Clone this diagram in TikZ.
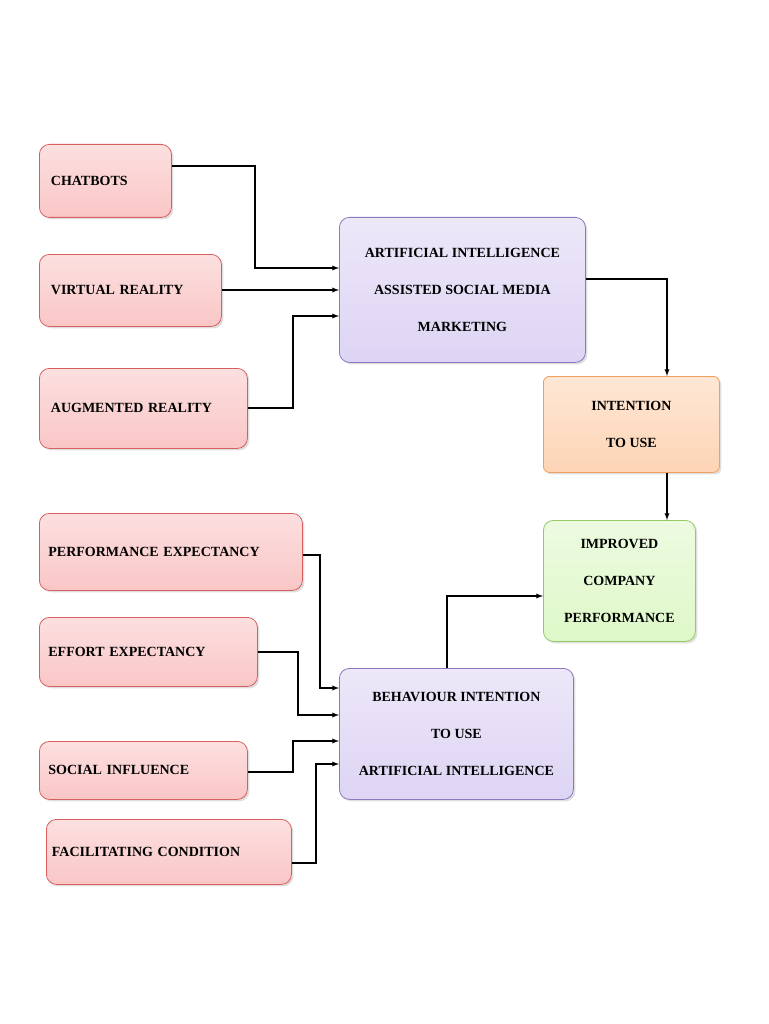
\documentclass[tikz,border=0pt]{standalone}
\usepackage{fontspec}
\setmainfont{Liberation Serif}
\usetikzlibrary{shadows}
\definecolor{pinkbd}{RGB}{215,95,95}
\definecolor{pinkfl}{RGB}{250,198,198}
\definecolor{purpbd}{RGB}{140,120,190}
\definecolor{purpfl}{RGB}{222,212,244}
\definecolor{orngbd}{RGB}{240,160,90}
\definecolor{orngfl}{RGB}{253,212,180}
\definecolor{grnbd}{RGB}{150,200,100}
\definecolor{grnfl}{RGB}{222,248,200}
\begin{document}
\begin{tikzpicture}[x=1pt,y=-1pt,
  font=\fontsize{14}{37}\selectfont\bfseries,
  box/.style={draw, rounded corners=10pt, line width=0.8pt, anchor=north west,
    drop shadow={shadow xshift=2pt, shadow yshift=-2pt, opacity=0.25}},
  srcbox/.style={box, draw=pinkbd, top color=pinkfl!55, bottom color=pinkfl,
    align=left, inner xsep=0pt},
  aibox/.style={box, draw=purpbd, top color=purpfl!55, bottom color=purpfl, align=center},
  link/.style={-latex, line width=1.3pt}]
\useasboundingbox (0,0) rectangle (768,1024);
% sources, upper part
\node (chat) [srcbox, minimum width=132pt, minimum height=73pt, text width=109pt] at (39,144) {CHATBOTS};
\node (vr) [srcbox, minimum width=182pt, minimum height=72pt, text width=159pt] at (39,254) {VIRTUAL REALITY};
\node (ar) [srcbox, minimum width=208pt, minimum height=80pt, text width=185pt] at (39,368) {AUGMENTED REALITY};
% central boxes
\node (aismm) [aibox, minimum width=246pt, minimum height=145pt] at (339,217) {ARTIFICIAL INTELLIGENCE\\ASSISTED SOCIAL MEDIA\\MARKETING};
\node (intent) [box, draw=orngbd, top color=orngfl!55, bottom color=orngfl, minimum width=176pt, minimum height=96pt, align=center, rounded corners=6pt] at (543,376) {INTENTION\\TO USE};
\node (perf) [box, draw=grnbd, top color=grnfl!55, bottom color=grnfl, minimum width=152pt, minimum height=121pt, align=center] at (543,520) {IMPROVED\\COMPANY\\PERFORMANCE};
\node (bi) [aibox, minimum width=234pt, minimum height=131pt] at (339,668) {BEHAVIOUR INTENTION\\TO USE\\ARTIFICIAL INTELLIGENCE};
% sources, lower part
\node (pe) [srcbox, minimum width=263pt, minimum height=77pt, text width=245pt] at (39,513) {PERFORMANCE EXPECTANCY};
\node (ee) [srcbox, minimum width=218pt, minimum height=69pt, text width=200pt] at (39,617) {EFFORT EXPECTANCY};
\node (si) [srcbox, minimum width=208pt, minimum height=58pt, text width=190pt] at (39,741) {SOCIAL INFLUENCE};
\node (fc) [srcbox, minimum width=245pt, minimum height=65pt, text width=234pt] at (46,819) {FACILITATING CONDITION};
% connectors
\draw[link] (chat.east |- 0,166) -| (255,268) -- (aismm.west |- 0,268);
\draw[link] (vr.east |- 0,290) -- (aismm.west |- 0,290);
\draw[link] (ar.east |- 0,408) -| (293,316) -- (aismm.west |- 0,316);
\draw[link] (aismm.east |- 0,279) -| (intent.north -| 667,0);
\draw[link] (intent.south -| 667,0) -- (perf.north -| 667,0);
\draw[link] (bi.north -| 447,0) |- (perf.west |- 0,596);
\draw[link] (pe.east |- 0,555) -| (320,688) -- (bi.west |- 0,688);
\draw[link] (ee.east |- 0,652) -| (298,715) -- (bi.west |- 0,715);
\draw[link] (si.east |- 0,772) -| (293,741) -- (bi.west |- 0,741);
\draw[link] (fc.east |- 0,863) -| (316,764) -- (bi.west |- 0,764);
\end{tikzpicture}
\end{document}
